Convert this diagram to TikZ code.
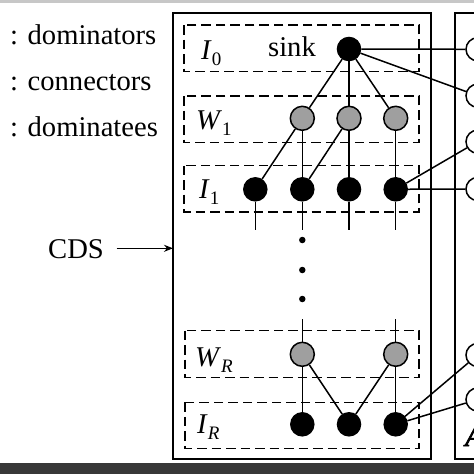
\documentclass[tikz,border=0pt]{standalone}
\usepackage{fontspec}
\setmainfont{Liberation Serif}
\usetikzlibrary{arrows.meta}
\newcommand{\lblsub}[2]{\textit{#1}\raisebox{-6pt}{\fontsize{19}{19}\selectfont #2}}
\begin{document}
\begin{tikzpicture}[x=1pt,y=-1pt,
  every node/.style={font=\fontsize{28.6}{30}\selectfont},
  dom/.style={circle,draw=black,fill=black,line width=1.5pt,minimum size=23pt,inner sep=0pt},
  con/.style={circle,draw=black,fill=gray!75,line width=1.5pt,minimum size=24pt,inner sep=0pt},
  dee/.style={circle,draw=black,fill=white,line width=1.5pt,minimum size=23pt,inner sep=0pt},
  dotn/.style={circle,fill=black,minimum size=6.5pt,inner sep=0pt},
  edge/.style={line width=1.5pt},
  bigbox/.style={line width=2pt},
  dbox/.style={line width=1.5pt,dash pattern=on 9.5pt off 5pt},
  lbl/.style={anchor=base west,inner sep=0pt}]
\useasboundingbox (0,0) rectangle (474,474);
\clip (0,0) rectangle (474,474);
\fill[white] (0,0) rectangle (474,474);
\fill[black!22] (0,0) rectangle (474,2.5);
\fill[black!78] (0,463) rectangle (474,474);
% boxes
\draw[bigbox] (173,13.3) rectangle (431,459);
\draw[bigbox] (455,13.3) rectangle (520,459);
\draw[dbox] (184,25) rectangle (419,71.7);
\draw[dbox] (184,96) rectangle (419,142.7);
\draw[dbox] (184,165.7) rectangle (419,212);
\draw[dbox] (185,330.7) rectangle (419,377.7);
\draw[dbox] (185,402.3) rectangle (419,448.3);
% labels
\node[lbl] (lI0) at (201,59) {\lblsub{I}{0}};
\node[lbl] (lW1) at (196,129) {\lblsub{W}{1}};
\node[lbl] (lI1) at (199,198.5) {\lblsub{I}{1}};
\node[lbl] (lWR) at (195,366) {\lblsub{W}{\textit{R}}};
\node[lbl] (lIR) at (197,433.3) {\lblsub{I}{\textit{R}}};
\node[anchor=base] (sinklbl) at (292,56.7) {sink};
\node[lbl] (leg1) at (10,44.3) {: dominators};
\node[lbl] (leg2) at (10,90) {: connectors};
\node[lbl] (leg3) at (10,136.7) {: dominatees};
\node[lbl] (cds) at (48,258.3) {CDS};
\node[lbl] (frag) at (465,446) {\itshape\addfontfeatures{FakeBold=3}A};
\coordinate (cdsend) at (173,248.3);
\draw[edge,-{Stealth[length=9pt,width=7pt]}] (116.7,248.3) -- (cdsend);
% nodes
\node[dom] (sink) at (349,49) {};
\node[con] (w1a) at (302.3,118.3) {};
\node[con] (w1b) at (349,118.3) {};
\node[con] (w1c) at (395.7,118.3) {};
\node[dom] (i1a) at (255.3,189.3) {};
\node[dom] (i1b) at (302.3,189.3) {};
\node[dom] (i1c) at (349,189.3) {};
\node[dom] (i1d) at (395.7,189.3) {};
\node[dotn] (d1) at (302.3,240) {};
\node[dotn] (d2) at (302.3,270) {};
\node[dotn] (d3) at (302.3,299) {};
\node[con] (wRa) at (302.3,354.3) {};
\node[con] (wRb) at (395.7,354.3) {};
\node[dom] (iRa) at (302.3,424.3) {};
\node[dom] (iRb) at (349,424.3) {};
\node[dom] (iRc) at (395.7,424.3) {};
\node[dee] (r1) at (477.5,49.3) {};
\node[dee] (r2) at (477.5,95.7) {};
\node[dee] (r3) at (477.5,141.7) {};
\node[dee] (r4) at (477.5,189) {};
\node[dee] (r5) at (477.5,355) {};
\node[dee] (r6) at (477.5,399.5) {};
% stub ends
\coordinate (s1) at (255.3,230);
\coordinate (s2) at (302.3,230);
\coordinate (s3) at (349,230);
\coordinate (s4) at (395.7,230);
\coordinate (t1) at (302.3,319);
\coordinate (t2) at (395.7,319);
% edges
\draw[edge] (sink) -- (w1a);
\draw[edge] (sink) -- (w1b);
\draw[edge] (sink) -- (w1c);
\draw[edge] (w1a) -- (i1a);
\draw[edge] (w1a) -- (i1b);
\draw[edge] (w1b) -- (i1b);
\draw[edge] (w1b) -- (i1c);
\draw[edge] (w1c) -- (i1d);
\draw[edge] (sink) -- (r1);
\draw[edge] (sink) -- (r2);
\draw[edge] (i1d) -- (r3);
\draw[edge] (i1d) -- (r4);
\draw[edge] (i1a) -- (s1);
\draw[edge] (i1b) -- (s2);
\draw[edge] (i1c) -- (s3);
\draw[edge] (i1d) -- (s4);
\draw[edge] (t1) -- (wRa);
\draw[edge] (t2) -- (wRb);
\draw[edge] (wRa) -- (iRa);
\draw[edge] (wRa) -- (iRb);
\draw[edge] (wRb) -- (iRb);
\draw[edge] (wRb) -- (iRc);
\draw[edge] (iRc) -- (r5);
\draw[edge] (iRc) -- (r6);
\end{tikzpicture}
\end{document}
